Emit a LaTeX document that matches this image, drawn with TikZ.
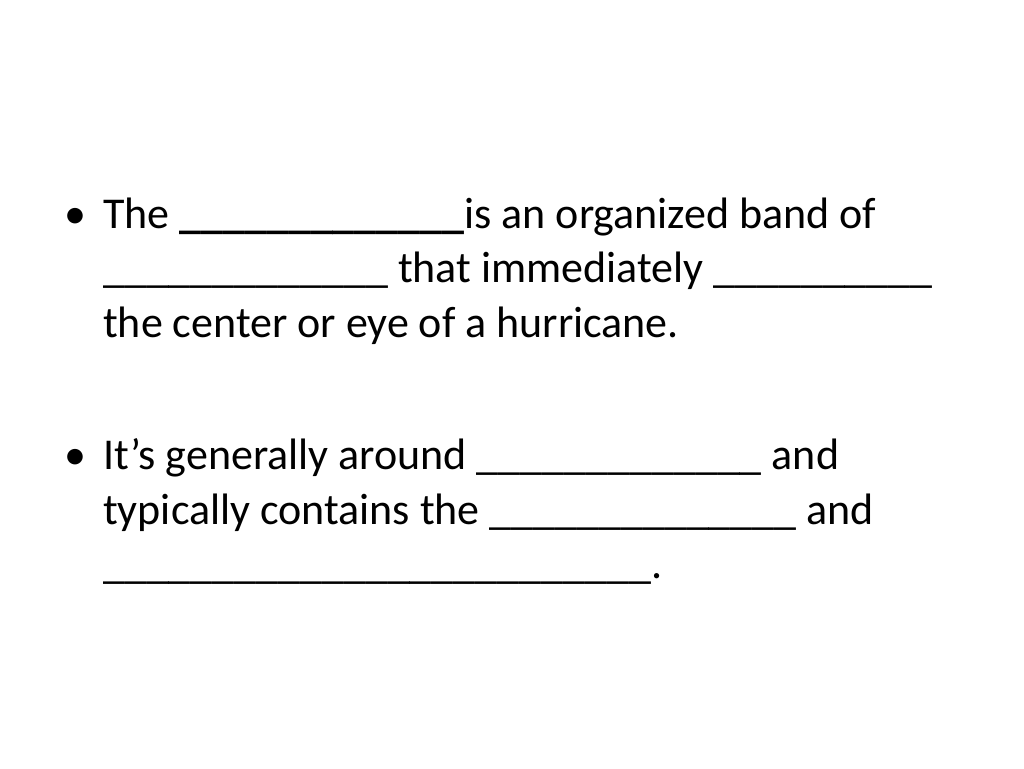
\documentclass[tikz,border=0pt]{standalone}
\usepackage{fontspec}
\setmainfont{Carlito}
\begin{document}
\begin{tikzpicture}[x=1pt,y=-1pt,
  ln/.style={anchor=base west,inner sep=0pt,font=\fontsize{44}{54}\selectfont},
  bl/.style={anchor=base,inner sep=0pt,font=\fontsize{44}{54}\selectfont}]
\useasboundingbox[fill=white] (0,0) rectangle (1024,768);
\node[bl] (b1) at (75,228) {•};
\node[ln] (l1) at (103,228) {The \textbf{\_\_\_\_\_\_\_\_\_\_\_\_\_}is an organized band of};
\node[ln] (l2) at (103,282) {\_\_\_\_\_\_\_\_\_\_\_\_\_ that immediately \_\_\_\_\_\_\_\_\_\_};
\node[ln] (l3) at (103,337) {the center or eye of a hurricane.};
\node[bl] (b2) at (75,469) {•};
\node[ln] (l4) at (103,469) {It's generally around \_\_\_\_\_\_\_\_\_\_\_\_\_ and};
\node[ln] (l5) at (103,524) {typically contains the \_\_\_\_\_\_\_\_\_\_\_\_\_\_ and};
\node[ln] (l6) at (103,578) {\_\_\_\_\_\_\_\_\_\_\_\_\_\_\_\_\_\_\_\_\_\_\_\_\_.};
\end{tikzpicture}
\end{document}
